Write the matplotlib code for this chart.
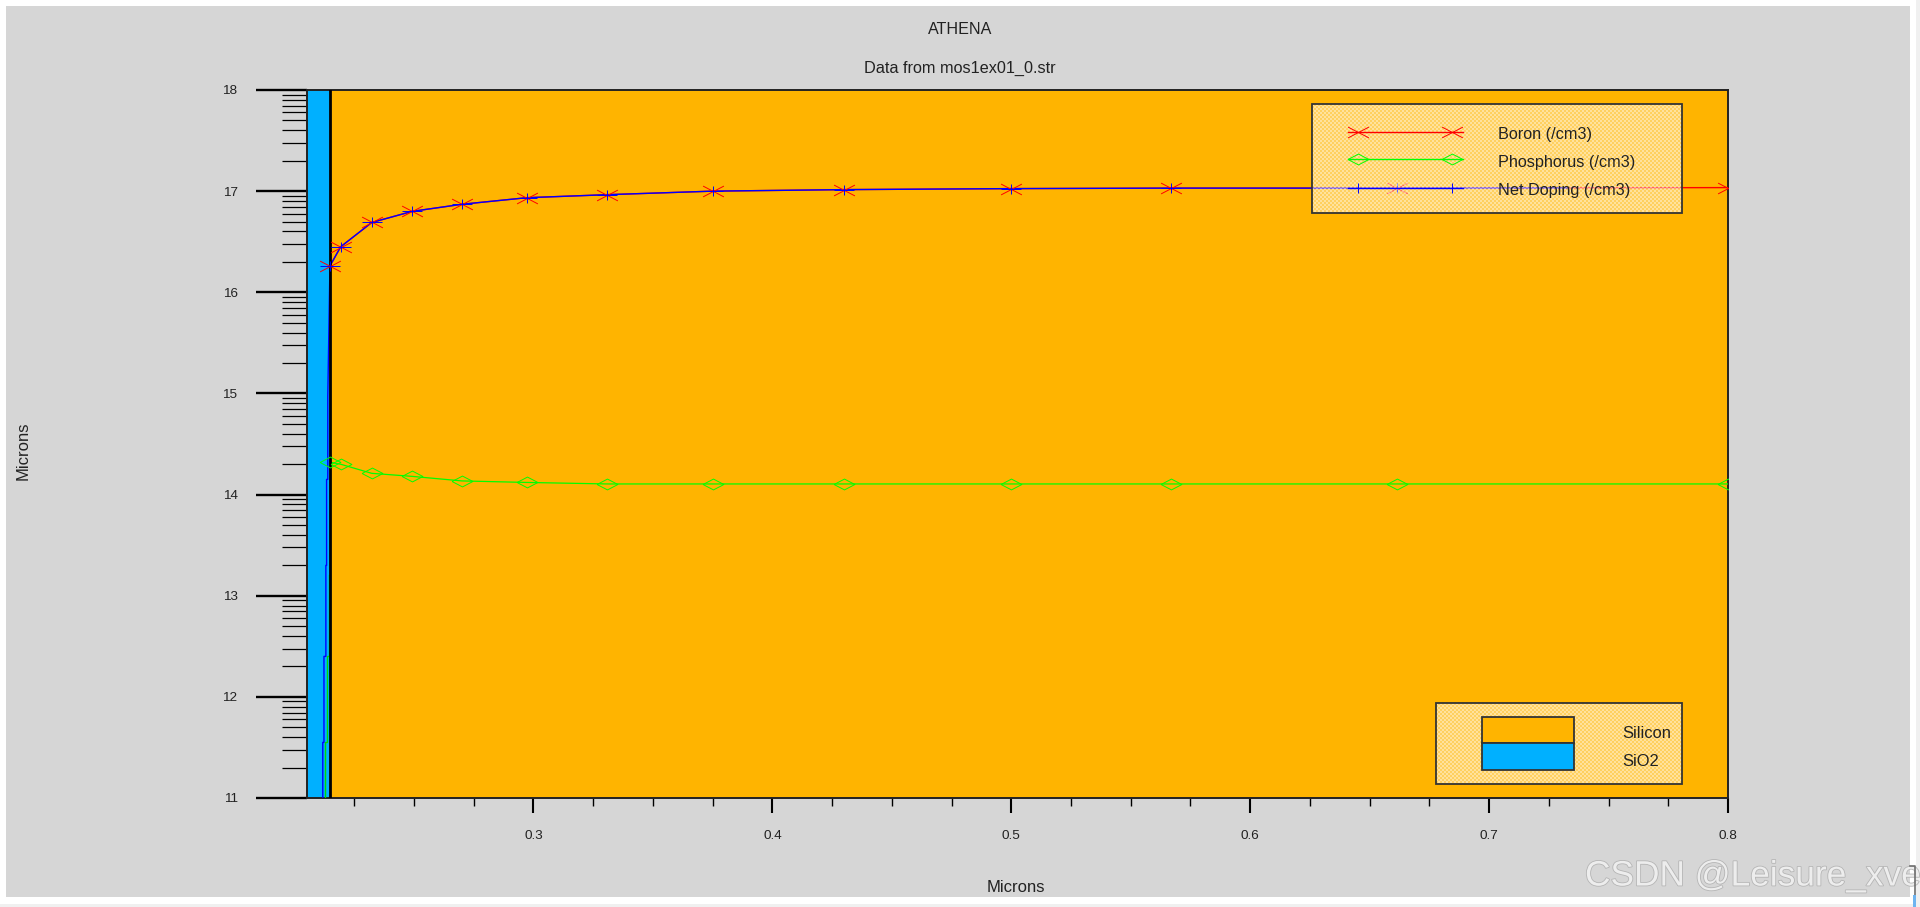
import numpy as np
from matplotlib import pyplot as plt
from matplotlib.path import Path
from matplotlib.patches import Rectangle
from matplotlib import patheffects as pe

plt.rcParams['font.family'] = ['Liberation Sans', 'DejaVu Sans']

# 数据
depth = [0.2148, 0.2193, 0.2323, 0.2492, 0.27, 0.2971, 0.3309, 0.375, 0.4299, 0.5, 0.5667, 0.6614, 0.8]
boron = [16.26, 16.45, 16.69, 16.80, 16.87, 16.935, 16.965, 17.0, 17.015, 17.025, 17.03, 17.03, 17.035]
phos = [14.32, 14.30, 14.21, 14.18, 14.135, 14.12, 14.105, 14.105, 14.105, 14.105, 14.105, 14.105, 14.105]
net_depth = [0.2118, 0.2118, 0.2123, 0.2123, 0.2131, 0.2131, 0.2134, 0.2134, 0.2139, 0.2139, 0.2148, 0.2193, 0.2323,
             0.2492, 0.27, 0.2971, 0.3309, 0.375, 0.4299, 0.5, 0.5667, 0.6614, 0.7326]
net = [11.0, 11.55, 11.55, 12.4, 12.4, 13.3, 13.3, 14.15, 14.15, 14.97, 16.26, 16.45, 16.69,
       16.80, 16.87, 16.935, 16.965, 17.0, 17.015, 17.025, 17.03, 17.03, 17.032]
phos_tail_x = [0.2128, 0.2128, 0.2134, 0.2134, 0.2142, 0.2142]
phos_tail_y = [11.0, 11.55, 11.55, 12.4, 12.4, 13.2]
materials = ['Silicon', 'SiO2']
x_major = [0.3, 0.4, 0.5, 0.6, 0.7, 0.8]
y_major = [11, 12, 13, 14, 15, 16, 17, 18]

GRAY = '#D6D6D6'
SI = '#FFB400'
OXIDE = '#00B0FF'

cross = Path([(-1, -0.52), (1, 0.52), (-1, 0.52), (1, -0.52)], [1, 2, 1, 2])
plus = Path([(-1, 0), (1, 0), (0, -0.52), (0, 0.52)], [1, 2, 1, 2])
diamond = Path([(-1, 0), (0, 0.52), (1, 0), (0, -0.52), (-1, 0)], [1, 2, 2, 2, 2])

W, H = 1920, 907


def px(x, y):
    return x / W, 1 - y / H


fig = plt.figure(figsize=(W / 100, H / 100), dpi=100, facecolor='white')
tr = fig.transFigure
# 灰色背景和窗口边
fig.add_artist(Rectangle(px(6, 897), 1904 / W, 891 / H, transform=tr, facecolor=GRAY, edgecolor='none', zorder=-5))
fig.add_artist(Rectangle(px(1916, 907), 4 / W, 1, transform=tr, facecolor='#F0F0F0', edgecolor='none', zorder=-5))
fig.add_artist(Rectangle(px(0, 907), 1, 3.5 / H, transform=tr, facecolor='#F0F0F0', edgecolor='none', zorder=-5))

ax = fig.add_axes([307 / W, 1 - 798 / H, 1421 / W, 708 / H])
ax.set_xlim(0.2052, 0.8)
ax.set_ylim(11, 18)
ax.set_facecolor(SI)
for s in ax.spines.values():
    s.set_linewidth(1.4)
    s.set_color('#222222')

# 材料区域
ax.axvspan(0.2052, 0.2148, color=OXIDE, lw=0, zorder=1)
ax.axvline(0.2148, color='black', lw=2.0, zorder=3.5)

ms = 15
ax.plot(depth, boron, color='#FF0000', lw=1.0, zorder=3)
ax.plot(phos_tail_x, phos_tail_y, color='#00DD00', lw=1.0, zorder=3)
ax.plot(depth, phos, color='#00FF00', lw=0.9, zorder=3)
ax.plot(net_depth, net, color='#0000FF', lw=1.0, zorder=3.2)
ax.plot(depth, boron, ls='none', color='#FF0000', marker=cross, ms=ms, mew=0.7, zorder=4)
ax.plot(depth, phos, ls='none', color='#00FF00', marker=diamond, ms=ms, mfc='none', mew=0.7, zorder=4)
ax.plot(depth[:-1], boron[:-1], ls='none', color='#0000FF', marker=plus, ms=ms, mew=0.7, zorder=4.2)

# 刻度
ax.set_xticks(x_major)
ax.set_xticks(np.arange(0.225, 0.8, 0.025), minor=True)
ax.set_yticks(y_major)
ax.set_yticks([d + np.log10(m) for d in y_major[:-1] for m in range(2, 10)], minor=True)
ax.set_yticklabels([str(v) for v in y_major])
ax.tick_params(axis='x', which='major', length=10.5, width=1.5, pad=12.3, labelsize=9.7, labelcolor='#222222')
ax.tick_params(axis='x', which='minor', length=6, width=1)
ax.tick_params(axis='y', which='major', length=37, width=1.7, pad=13, labelsize=9.7, labelcolor='#222222')
ax.tick_params(axis='y', which='minor', length=18, width=0.9)

txt = dict(transform=tr, color='#222222', va='center')
fig.text(*px(960, 29), 'ATHENA', ha='center', fontsize=11.6, **txt)
fig.text(*px(960, 68.5), 'Data from mos1ex01_0.str', ha='center', fontsize=11.7, **txt)
fig.text(*px(23, 451), 'Microns', ha='center', rotation=90, fontsize=12, **txt)
fig.text(*px(1016, 887), 'Microns', ha='center', fontsize=12, **txt)


# 图例
def stipple(x0, y0, x1, y1, zorder=6):
    # 半透明网点底
    h, w = int(y1 - y0), int(x1 - x0)
    yy, xx = np.mgrid[0:h, 0:w]
    arr = np.ones((h, w, 4))
    arr[..., 3] = np.where((xx // 2 + yy // 2) % 2 == 0, 0.62, 0.38)
    fig.figimage(arr, xo=int(x0), yo=int(H - y1), origin='upper', zorder=zorder)


def frame(x0, y0, x1, y1, fc='none', zorder=7):
    fig.add_artist(Rectangle(px(x0, y1), (x1 - x0) / W, (y1 - y0) / H, transform=tr, facecolor=fc,
                             edgecolor='#333333', lw=1.3, zorder=zorder))


stipple(1312, 104, 1682, 213)
frame(1312, 104, 1682, 213)
rows = [('Boron (/cm3)', '#FF0000', cross, 131.7, 135), ('Phosphorus (/cm3)', '#00FF00', diamond, 159, 162.7),
        ('Net Doping (/cm3)', '#0000FF', plus, 187.7, 190.7)]
for name, c, m, ly, ty in rows:
    fig.add_artist(plt.Line2D([1348 / W, 1463 / W], [1 - ly / H] * 2, transform=tr, color=c, lw=1.0, zorder=8))
    fig.add_artist(plt.Line2D([1358 / W, 1452 / W], [1 - ly / H] * 2, transform=tr, color=c, ls='none',
                              marker=m, ms=ms, mfc='none', mew=0.7, zorder=8))
    fig.text(*px(1498, ty), name, ha='left', fontsize=11.7, zorder=9, **txt)

stipple(1436, 703, 1682, 784)
frame(1436, 703, 1682, 784)
frame(1482, 717, 1574, 743, fc=SI, zorder=8)
frame(1482, 743, 1574, 770, fc=OXIDE, zorder=8)
fig.text(*px(1622, 734), materials[0], ha='left', fontsize=11.9, zorder=9, **txt)
fig.text(*px(1622, 761.7), materials[1], ha='left', fontsize=11.9, zorder=9, **txt)

# 水印
fig.text(*px(1585, 876), 'CSDN @Leisure_xve', ha='left', va='center', fontsize=25.4, color='#EDEDED',
         path_effects=[pe.withStroke(linewidth=1.2, foreground='#B5B5B5')], zorder=10)
# 右下角滚动条残留
fig.add_artist(plt.Line2D([1910 / W, 1915 / W, 1915 / W], [1 - 866 / H, 1 - 866 / H, 0], transform=tr,
                          color='#707070', lw=1.2, zorder=11))
fig.add_artist(Rectangle(px(1913, 907), 3 / W, 12 / H, transform=tr, facecolor='#6EB4F0', edgecolor='none', zorder=11))

fig.savefig('out.png', dpi=100)
